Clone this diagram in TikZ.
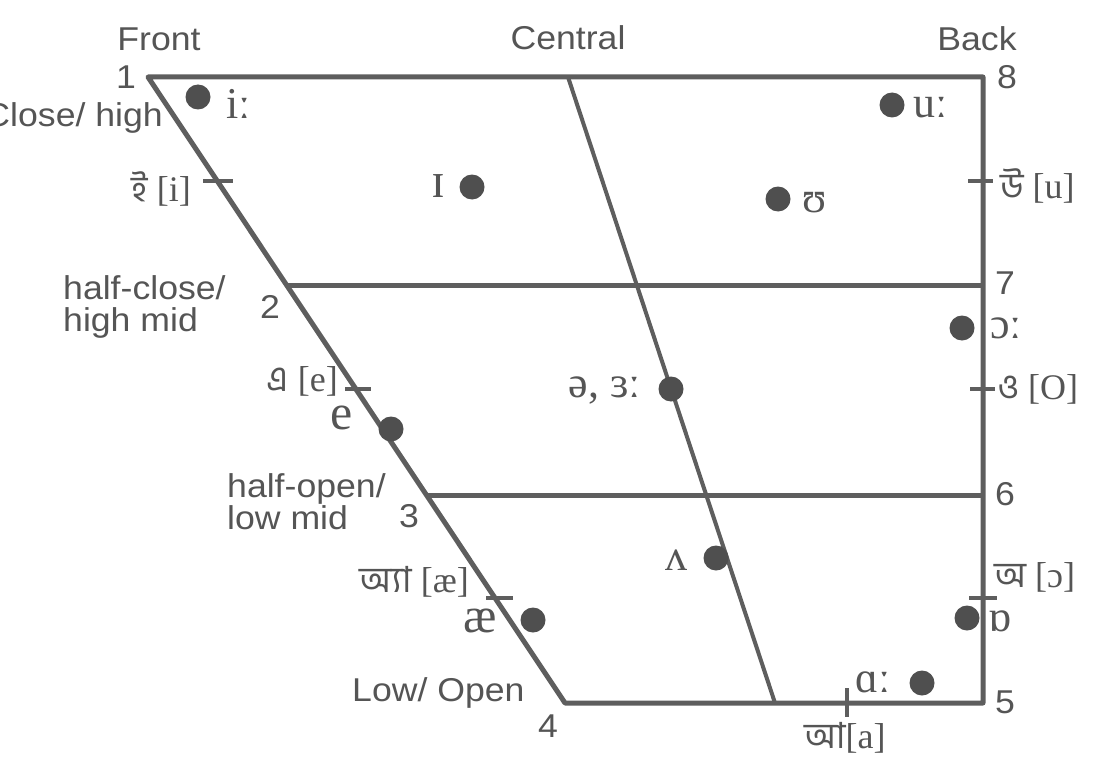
\documentclass[tikz,border=0pt]{standalone}
\usepackage{fontspec}
\setmainfont{Liberation Serif}
\newfontfamily\sansf[FakeStretch=1.08]{Liberation Sans}
\newfontfamily\bnf[Script=Bengali]{Hind Siliguri}
\newcommand\lblfont{\sansf\fontsize{33}{32}\selectfont}
\newcommand\ipafont{\rmfamily\fontsize{44}{44}\selectfont}
\newcommand\bigipafont{\rmfamily\fontsize{50}{50}\selectfont}
\newcommand\bnlfont{\rmfamily\fontsize{36}{36}\selectfont}
\definecolor{linegray}{HTML}{5E5E5E}
\definecolor{txtgray}{HTML}{555555}
\definecolor{dotgray}{HTML}{4F4F4F}
\tikzset{
  frame/.style={draw=linegray, line width=5pt, line join=round},
  midline/.style={draw=linegray, line width=4pt},
  tickmark/.style={draw=linegray, line width=3.5pt},
  lbl/.style={font=\lblfont, text=txtgray, inner sep=0pt},
  num/.style={font=\lblfont, text=txtgray, inner sep=0pt},
  ipa/.style={font=\ipafont, text=txtgray, inner sep=0pt},
  bigipa/.style={font=\bigipafont, text=txtgray, inner sep=0pt},
  bnl/.style={font=\bnlfont, text=txtgray, inner sep=0pt},
  dot/.style={circle, fill=dotgray, minimum size=25pt, inner sep=0pt}
}
\begin{document}
\begin{tikzpicture}[x=1pt, y=-1pt]
\useasboundingbox (0,0) rectangle (1094,765);
% corner and grid coordinates
\coordinate (p1) at (148,77);
\coordinate (p8) at (983,77);
\coordinate (p5) at (983,703);
\coordinate (p4) at (565,703);
\coordinate (c1) at (568,77);
\coordinate (c2) at (775,703);
\coordinate (h2) at (288,285);
\coordinate (h7) at (983,285);
\coordinate (h3) at (427,495);
\coordinate (h6) at (983,495);
% tick end points
\coordinate (ti1) at (203,181); \coordinate (ti2) at (233,181);
\coordinate (tu1) at (968,181); \coordinate (tu2) at (993,181);
\coordinate (te1) at (345,389); \coordinate (te2) at (371,389);
\coordinate (to1) at (970,389); \coordinate (to2) at (995,389);
\coordinate (tae1) at (486,598); \coordinate (tae2) at (513,598);
\coordinate (tc1) at (969,598); \coordinate (tc2) at (997,598);
\coordinate (ta1) at (847,688); \coordinate (ta2) at (847,717);
% lines
\draw[midline] (c1) -- (c2);
\draw[frame] (h2) -- (h7);
\draw[frame] (h3) -- (h6);
\draw[frame] (p4) -- (p1) -- (p8) -- (p5) -- cycle;
\draw[tickmark] (ti1) -- (ti2);
\draw[tickmark] (tu1) -- (tu2);
\draw[tickmark] (te1) -- (te2);
\draw[tickmark] (to1) -- (to2);
\draw[tickmark] (tae1) -- (tae2);
\draw[tickmark] (tc1) -- (tc2);
\draw[tickmark] (ta1) -- (ta2);
% headings
\node[lbl, anchor=base] (front) at (159,51) {Front};
\node[lbl, anchor=base] (central) at (568,50) {Central};
\node[lbl, anchor=base] (back) at (977,51) {Back};
% numbers
\node[num] (n1) at (126,77) {1};
\node[num] (n8) at (1007,77) {8};
\node[num] (n7) at (1005,283) {7};
\node[num] (n6) at (1005,494) {6};
\node[num] (n5) at (1005,702) {5};
\node[num] (n2) at (270,307) {2};
\node[num] (n3) at (409,516) {3};
\node[num] (n4) at (548,726) {4};
% height labels
\node[lbl, anchor=base east] (close) at (163,126) {Close/ high};
\node[lbl, anchor=north west, align=left] (hclose) at (63,275) {half-close/\\high mid};
\node[lbl, anchor=north west, align=left] (hopen) at (227,473) {half-open/\\low mid};
\node[lbl, anchor=base west] (lowopen) at (352,701) {Low/ Open};
% vowel dots
\node[dot] (d-ii) at (198,97) {};
\node[dot] (d-I) at (472,187) {};
\node[dot] (d-uu) at (892,105) {};
\node[dot] (d-U) at (778,199) {};
\node[dot] (d-oo) at (962,328) {};
\node[dot] (d-schwa) at (671,389) {};
\node[dot] (d-e) at (391,429) {};
\node[dot] (d-v) at (716,558) {};
\node[dot] (d-ae) at (533,620) {};
\node[dot] (d-Q) at (967,618) {};
\node[dot] (d-aa) at (922,683) {};
% vowel symbols
\node[ipa, anchor=west] (s-ii) at (226,104) {iː};
\node[bigipa] (s-I) at (438,186) {ɪ};
\node[ipa, anchor=west] (s-uu) at (913,108) {uː};
\node[ipa, anchor=west] (s-U) at (802,203) {ʊ};
\node[ipa, anchor=west] (s-oo) at (990,328) {ɔː};
\node[ipa, anchor=east] (s-schwa) at (641,391) {ə, ɜː};
\node[bigipa] (s-e) at (342,418) {e};
\node[ipa] (s-v) at (676,560) {ʌ};
\node[bigipa] (s-ae) at (480,621) {æ};
\node[ipa, anchor=west] (s-Q) at (988,621) {ɒ};
\node[ipa] (s-aa) at (873,682) {ɑː};
% Bengali reference labels
\node[bnl, anchor=east] (b-i) at (191,189) {{\bnf ই} [i]};
\node[bnl, anchor=west] (b-u) at (1000,186) {{\bnf উ} [u]};
\node[bnl, anchor=east] (b-e) at (338,381) {{\bnf এ} [e]};
\node[bnl, anchor=west] (b-o) at (997,389) {{\bnf ও} [O]};
\node[bnl, anchor=east] (b-ae) at (469,582) {{\bnf অ্যা} [æ]};
\node[bnl, anchor=west] (b-c) at (994,577) {{\bnf অ} [ɔ]};
\node[bnl] (b-a) at (845,738) {{\bnf আ}[a]};
\end{tikzpicture}
\end{document}
